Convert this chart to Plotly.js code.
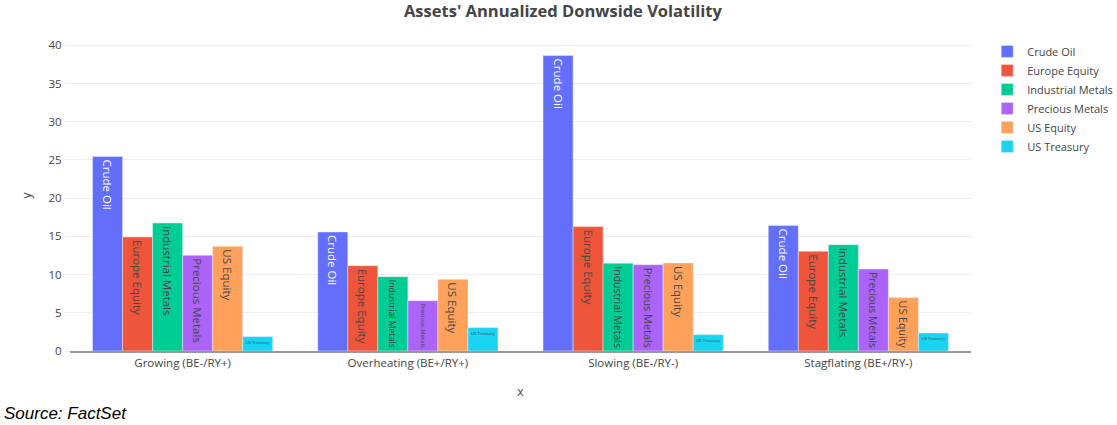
<!DOCTYPE html>
<html>
<head>
<meta charset="utf-8">
<script src="https://cdn.plot.ly/plotly-3.0.1.min.js"></script>
<style>html,body{margin:0;padding:0;background:#fff;}#chart{width:1117px;height:425px;}</style>
</head>
<body>
<div id="chart"></div>
<script>
const regimes = ["Growing (BE-/RY+)", "Overheating (BE+/RY+)", "Slowing (BE-/RY-)", "Stagflating (BE+/RY-)"];
const assetNames = ["Crude Oil", "Europe Equity", "Industrial Metals", "Precious Metals", "US Equity", "US Treasury"];
const crudeOil = [25.45, 15.58, 38.66, 16.41];
const europeEquity = [14.92, 11.17, 16.28, 13.05];
const industrialMetals = [16.75, 9.73, 11.48, 13.92];
const preciousMetals = [12.53, 6.59, 11.30, 10.73];
const usEquity = [13.70, 9.38, 11.52, 6.99];
const usTreasury = [1.88, 3.06, 2.14, 2.36];
const seriesValues = [crudeOil, europeEquity, industrialMetals, preciousMetals, usEquity, usTreasury];
const colors = ["#636efa", "#EF553B", "#00cc96", "#ab63fa", "#FFA15A", "#19d3f3"];

const traces = assetNames.map((name, i) => ({
  type: "bar",
  name: name,
  x: regimes,
  y: seriesValues[i],
  text: regimes.map(() => name),
  textposition: "auto",
  marker: {color: colors[i], line: {color: "#E5ECF6", width: 0.5}},
  hoverinfo: "x+y+name"
}));

const layout = {
  width: 1117, height: 425,
  barmode: "group",
  font: {family: '"Open Sans", verdana, arial, sans-serif', size: 11.5, color: "#444"},
  paper_bgcolor: "#fff", plot_bgcolor: "#fff",
  margin: {l: 70, r: 146, t: 40, b: 74, autoexpand: false},
  title: {text: "<b>Assets' Annualized Donwside Volatility</b>", x: 0.504, xanchor: "center", y: 0.974, yanchor: "middle", yref: "container", font: {size: 16.5, color: "#444"}},
  xaxis: {title: {text: "x", font: {color: "#444", size: 12}, standoff: 19}, automargin: false, tickfont: {color: "#444", size: 11.5}, showline: true, linecolor: "#999", linewidth: 2, showgrid: false, ticks: ""},
  yaxis: {title: {text: "y", font: {color: "#444", size: 12}, standoff: 14}, automargin: false, tickfont: {color: "#444", size: 11.5}, gridcolor: "#EEEEEE", zeroline: false, range: [0, 40.7], dtick: 5, ticks: "outside", ticklen: 5, tickcolor: "#EEEEEE"},
  legend: {x: 1.018, y: 1.01, xanchor: "left", yanchor: "top", font: {color: "#444", size: 11}, tracegroupgap: 0},
  annotations: [{
    text: "<i>Source: FactSet</i>",
    xref: "paper", yref: "paper", x: -0.075, y: -0.165, xanchor: "left", yanchor: "top",
    showarrow: false, font: {family: "Liberation Sans, Arial, sans-serif", size: 17, color: "#000"}
  }]
};

Plotly.newPlot("chart", traces, layout, {displayModeBar: false});
</script>
</body>
</html>
